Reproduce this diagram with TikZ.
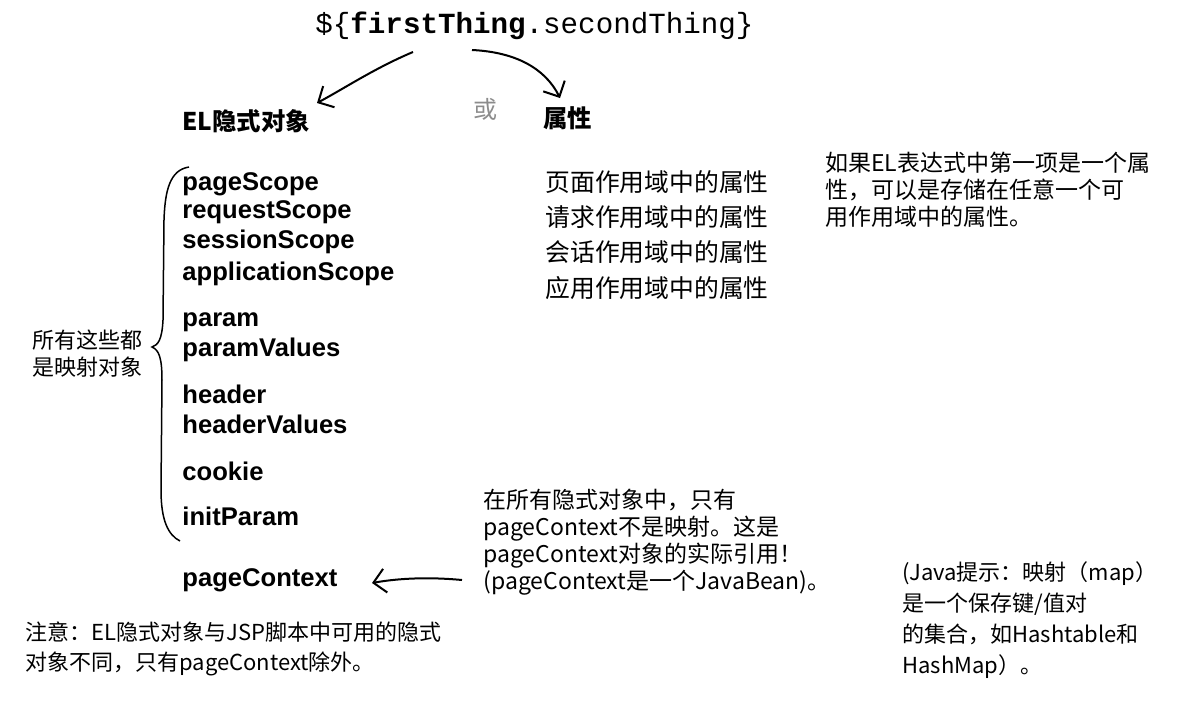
\documentclass[tikz,border=0pt]{standalone}
\usepackage{fontspec}
\setmainfont{Liberation Sans}
\newfontfamily\cjk{Noto Sans CJK SC}
\newfontfamily\mono{Liberation Mono}
\usetikzlibrary{arrows.meta}
\begin{document}
\begin{tikzpicture}[x=0.5pt, y=-0.5pt,
    item/.style={anchor=base west, inner sep=0pt, font=\fontsize{12.8}{15}\selectfont\bfseries},
    attr/.style={anchor=base west, inner sep=0pt, font=\cjk\fontsize{12.4}{15}\selectfont},
    head/.style={anchor=base west, inner sep=0pt, font=\cjk\fontsize{12.2}{15}\selectfont\bfseries},
    note/.style={anchor=north west, inner sep=0pt, align=left, font=\cjk\fontsize{11.5}{13.5}\selectfont},
    hand/.style={line width=1pt, -{Straight Barb[length=6pt,width=12pt]}}]
            \useasboundingbox (0,0) rectangle (1184,702) ;
            % expression
            \draw (315,33) node[anchor=base west, inner sep=0pt, font=\mono\fontsize{14.6}{18}\selectfont](expr){\$\{\textbf{firstThing}.secondThing\}} ;
            \coordinate (ftl) at (413,52) ;
            \coordinate (ftr) at (472,50) ;
            % headings
            \draw (182,130) node[head](elhead){EL隐式对象} ;
            \draw (473,118) node[anchor=base west, inner sep=0pt, text=black!45, font=\cjk\fontsize{12}{14}\selectfont](orword){或} ;
            \draw (543,127) node[head](attrhead){属性} ;
            \coordinate (elend) at (317,103) ;
            \coordinate (attrend) at (560,98) ;
            % implicit objects
            \draw (182,190) node[item](o1){pageScope} ;
            \draw (182,218) node[item](o2){requestScope} ;
            \draw (182,248) node[item](o3){sessionScope} ;
            \draw (182,280) node[item](o4){applicationScope} ;
            \draw (182,326) node[item](o5){param} ;
            \draw (182,356) node[item](o6){paramValues} ;
            \draw (182,403) node[item](o7){header} ;
            \draw (182,433) node[item](o8){headerValues} ;
            \draw (182,480) node[item](o9){cookie} ;
            \draw (182,525) node[item](o10){initParam} ;
            \draw (182,586) node[item](octx){pageContext} ;
            % attributes
            \draw (545,191) node[attr](a1){页面作用域中的属性} ;
            \draw (545,226) node[attr](a2){请求作用域中的属性} ;
            \draw (545,261) node[attr](a3){会话作用域中的属性} ;
            \draw (545,297) node[attr](a4){应用作用域中的属性} ;
            % brace
            \draw[line width=0.75pt] (189,167) .. controls (170,170) and (165,190) .. (164,220)
                -- (163,320) .. controls (162,340) and (158,345) .. (152,347)
                .. controls (159,350) and (162,358) .. (162,380)
                -- (161,490) .. controls (161,520) and (168,535) .. (180,541) ;
            % notes
            \draw (32,329) node[note, font=\cjk\fontsize{11}{13.5}\selectfont](mapnote){所有这些都\\是映射对象} ;
            \draw (825,152) node[note](attrnote){如果EL表达式中第一项是一个属\\性，可以是存储在任意一个可\\用作用域中的属性。} ;
            \draw (483,489) node[note](ctxnote){在所有隐式对象中，只有\\pageContext不是映射。这是\\pageContext对象的实际引用！\\(pageContext是一个JavaBean)。} ;
            \draw (25,621) node[note, font=\cjk\fontsize{11}{15}\selectfont](jspnote){注意：EL隐式对象与JSP脚本中可用的隐式\\对象不同，只有pageContext除外。} ;
            \draw (902,561) node[note, font=\cjk\fontsize{11}{15.5}\selectfont](javanote){(Java提示：映射（map）\\是一个保存键/值对\\的集合，如Hashtable和\\HashMap）。} ;
            \coordinate (ctxs) at (462,580) ;
            \coordinate (ctxe) at (372,583) ;
            % Arrows
            \draw[hand] (ftl) .. controls (375,68) and (345,88) .. (elend) ;
            \draw[hand] (ftr) .. controls (515,52) and (545,68) .. (attrend) ;
            \draw[hand] (ctxs) .. controls (430,577) and (400,578) .. (ctxe) ;
        \end{tikzpicture}
\end{document}
